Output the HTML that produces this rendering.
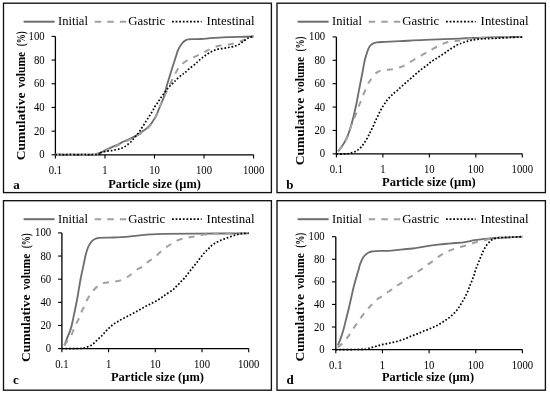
<!DOCTYPE html>
<html><head><meta charset="utf-8"><style>
html,body{margin:0;padding:0;background:#fff;width:550px;height:395px;overflow:hidden}
svg{display:block;font-family:'Liberation Serif', 'DejaVu Serif', serif}
</style></head><body>
<svg width="550" height="395" viewBox="0 0 550 395">
<rect width="550" height="395" fill="#fff"/>
<rect x="3.5" y="3.2" width="267.9" height="189.4" fill="none" stroke="#111" stroke-width="1.35"/>
<line x1="23.6" y1="21.7" x2="54.6" y2="21.7" stroke="#6e6e6e" stroke-width="2"/>
<line x1="94.7" y1="21.7" x2="126.2" y2="21.7" stroke="#a0a0a0" stroke-width="2" stroke-dasharray="6.5 6.1"/>
<line x1="172.0" y1="21.7" x2="201.6" y2="21.7" stroke="#000" stroke-width="1.8" stroke-dasharray="1.8 1.8"/>
<text x="58.0" y="25.3" font-size="12" textLength="29.9" lengthAdjust="spacingAndGlyphs" fill="#000">Initial</text>
<text x="128.3" y="25.3" font-size="12" textLength="37.0" lengthAdjust="spacingAndGlyphs" fill="#000">Gastric</text>
<text x="206.6" y="25.3" font-size="12" textLength="48.0" lengthAdjust="spacingAndGlyphs" fill="#000">Intestinal</text>
<path d="M55.4,36.4 V154.8 H253.6" fill="none" stroke="#000" stroke-width="1.3"/>
<line x1="51.6" y1="154.80" x2="55.4" y2="154.80" stroke="#000" stroke-width="1.1"/>
<text x="39.25" y="158.30" font-size="11.9" textLength="5.35" lengthAdjust="spacingAndGlyphs" fill="#000">0</text>
<line x1="51.6" y1="131.12" x2="55.4" y2="131.12" stroke="#000" stroke-width="1.1"/>
<text x="33.90" y="134.62" font-size="11.9" textLength="10.70" lengthAdjust="spacingAndGlyphs" fill="#000">20</text>
<line x1="51.6" y1="107.44" x2="55.4" y2="107.44" stroke="#000" stroke-width="1.1"/>
<text x="33.90" y="110.94" font-size="11.9" textLength="10.70" lengthAdjust="spacingAndGlyphs" fill="#000">40</text>
<line x1="51.6" y1="83.76" x2="55.4" y2="83.76" stroke="#000" stroke-width="1.1"/>
<text x="33.90" y="87.26" font-size="11.9" textLength="10.70" lengthAdjust="spacingAndGlyphs" fill="#000">60</text>
<line x1="51.6" y1="60.08" x2="55.4" y2="60.08" stroke="#000" stroke-width="1.1"/>
<text x="33.90" y="63.58" font-size="11.9" textLength="10.70" lengthAdjust="spacingAndGlyphs" fill="#000">80</text>
<line x1="51.6" y1="36.40" x2="55.4" y2="36.40" stroke="#000" stroke-width="1.1"/>
<text x="28.55" y="39.90" font-size="11.9" textLength="16.05" lengthAdjust="spacingAndGlyphs" fill="#000">100</text>
<line x1="55.40" y1="154.8" x2="55.40" y2="158.5" stroke="#000" stroke-width="1.1"/>
<text x="48.71" y="174.0" font-size="11.9" textLength="13.38" lengthAdjust="spacingAndGlyphs" fill="#000">0.1</text>
<line x1="104.95" y1="154.8" x2="104.95" y2="158.5" stroke="#000" stroke-width="1.1"/>
<text x="102.27" y="174.0" font-size="11.9" textLength="5.35" lengthAdjust="spacingAndGlyphs" fill="#000">1</text>
<line x1="154.50" y1="154.8" x2="154.50" y2="158.5" stroke="#000" stroke-width="1.1"/>
<text x="149.15" y="174.0" font-size="11.9" textLength="10.70" lengthAdjust="spacingAndGlyphs" fill="#000">10</text>
<line x1="204.05" y1="154.8" x2="204.05" y2="158.5" stroke="#000" stroke-width="1.1"/>
<text x="196.02" y="174.0" font-size="11.9" textLength="16.05" lengthAdjust="spacingAndGlyphs" fill="#000">100</text>
<line x1="253.60" y1="154.8" x2="253.60" y2="158.5" stroke="#000" stroke-width="1.1"/>
<text x="242.90" y="174.0" font-size="11.9" textLength="21.40" lengthAdjust="spacingAndGlyphs" fill="#000">1000</text>
<text x="108.2" y="187.5" font-size="13.4" font-weight="bold" textLength="92.7" lengthAdjust="spacingAndGlyphs" fill="#000">Particle size (µm)</text>
<text transform="translate(25.4,160.20) rotate(-90)" font-size="13.4" font-weight="bold" textLength="67.6" lengthAdjust="spacingAndGlyphs" fill="#000">Cumulative</text>
<text transform="translate(25.4,87.80) rotate(-90)" font-size="13.4" font-weight="bold" textLength="36.0" lengthAdjust="spacingAndGlyphs" fill="#000">volume</text>
<text transform="translate(25.4,46.30) rotate(-90)" font-size="13.4" font-weight="bold" textLength="15.0" lengthAdjust="spacingAndGlyphs" fill="#000">(%)</text>
<text x="13.2" y="189.2" font-size="13" font-weight="bold" fill="#000">a</text>
<path d="M55.40,154.60 C61.67,154.60 86.15,154.70 93.00,154.60 C99.85,154.50 95.25,154.33 96.50,154.00 C97.75,153.67 99.23,153.13 100.50,152.60 C101.77,152.07 102.43,151.60 104.10,150.80 C105.77,150.00 108.12,148.88 110.50,147.80 C112.88,146.72 116.48,145.20 118.40,144.30 C120.32,143.40 120.22,143.25 122.00,142.40 C123.78,141.55 126.73,140.33 129.10,139.20 C131.47,138.07 134.38,136.60 136.20,135.60 C138.02,134.60 138.87,133.97 140.00,133.20 C141.13,132.43 141.80,131.88 143.00,131.00 C144.20,130.12 146.03,128.90 147.20,127.90 C148.37,126.90 149.17,125.95 150.00,125.00 C150.83,124.05 151.13,123.85 152.20,122.20 C153.27,120.55 155.22,117.47 156.40,115.10 C157.58,112.73 158.40,110.18 159.30,108.00 C160.20,105.82 160.98,103.97 161.80,102.00 C162.62,100.03 163.53,98.28 164.20,96.20 C164.87,94.12 165.28,91.53 165.80,89.50 C166.32,87.47 166.83,85.62 167.30,84.00 C167.77,82.38 167.82,82.35 168.60,79.80 C169.38,77.25 170.75,72.67 172.00,68.70 C173.25,64.73 175.08,59.13 176.10,56.00 C177.12,52.87 177.12,51.98 178.10,49.90 C179.08,47.82 180.77,45.08 182.00,43.50 C183.23,41.92 184.40,41.08 185.50,40.40 C186.60,39.72 187.35,39.62 188.60,39.40 C189.85,39.18 190.93,39.17 193.00,39.10 C195.07,39.03 198.17,39.15 201.00,39.00 C203.83,38.85 207.00,38.43 210.00,38.20 C213.00,37.97 216.00,37.77 219.00,37.60 C222.00,37.43 224.50,37.32 228.00,37.20 C231.50,37.08 235.73,37.03 240.00,36.90 C244.27,36.77 251.33,36.48 253.60,36.40" fill="none" stroke="#6e6e6e" stroke-width="1.85"/>
<path d="M55.40,154.60 C61.67,154.60 86.15,154.67 93.00,154.60 C99.85,154.53 95.25,154.47 96.50,154.20 C97.75,153.93 99.23,153.47 100.50,153.00 C101.77,152.53 102.43,152.15 104.10,151.40 C105.77,150.65 108.12,149.57 110.50,148.50 C112.88,147.43 116.48,145.90 118.40,145.00 C120.32,144.10 120.22,143.95 122.00,143.10 C123.78,142.25 126.73,141.03 129.10,139.90 C131.47,138.77 134.38,137.30 136.20,136.30 C138.02,135.30 138.87,134.67 140.00,133.90 C141.13,133.13 141.80,132.58 143.00,131.70 C144.20,130.82 146.03,129.62 147.20,128.60 C148.37,127.58 149.17,126.57 150.00,125.60 C150.83,124.63 151.13,124.47 152.20,122.80 C153.27,121.13 155.22,118.00 156.40,115.60 C157.58,113.20 158.40,110.60 159.30,108.40 C160.20,106.20 160.98,104.37 161.80,102.40 C162.62,100.43 163.25,98.75 164.20,96.60 C165.15,94.45 166.27,92.10 167.50,89.50 C168.73,86.90 170.48,83.30 171.60,81.00 C172.72,78.70 173.23,77.58 174.20,75.70 C175.17,73.82 176.33,71.40 177.40,69.70 C178.47,68.00 179.13,66.95 180.60,65.50 C182.07,64.05 184.32,62.23 186.20,61.00 C188.08,59.77 190.05,59.00 191.90,58.10 C193.75,57.20 195.38,56.50 197.30,55.60 C199.22,54.70 201.53,53.65 203.40,52.70 C205.27,51.75 206.70,50.80 208.50,49.90 C210.30,49.00 212.22,48.02 214.20,47.30 C216.18,46.58 218.35,45.98 220.40,45.60 C222.45,45.22 224.48,45.32 226.50,45.00 C228.52,44.68 230.48,44.18 232.50,43.70 C234.52,43.22 236.68,42.72 238.60,42.10 C240.52,41.48 242.27,40.72 244.00,40.00 C245.73,39.28 247.40,38.40 249.00,37.80 C250.60,37.20 252.83,36.63 253.60,36.40" fill="none" stroke="#a0a0a0" stroke-width="2" stroke-dasharray="6.1 6.3"/>
<path d="M55.40,154.60 C62.35,154.58 89.57,154.80 97.10,154.50 C104.63,154.20 99.43,153.27 100.60,152.80 C101.77,152.33 102.93,151.98 104.10,151.70 C105.27,151.42 106.43,151.27 107.60,151.10 C108.77,150.93 109.93,150.88 111.10,150.70 C112.27,150.52 113.43,150.25 114.60,150.00 C115.77,149.75 116.95,149.50 118.10,149.20 C119.25,148.90 120.43,148.58 121.50,148.20 C122.57,147.82 123.53,147.47 124.50,146.90 C125.47,146.33 126.35,145.53 127.30,144.80 C128.25,144.07 129.32,143.32 130.20,142.50 C131.08,141.68 131.83,140.78 132.60,139.90 C133.37,139.02 134.03,138.12 134.80,137.20 C135.57,136.28 136.43,135.33 137.20,134.40 C137.97,133.47 138.75,132.52 139.40,131.60 C140.05,130.68 140.45,129.88 141.10,128.90 C141.75,127.92 142.63,126.72 143.30,125.70 C143.97,124.68 144.47,123.82 145.10,122.80 C145.73,121.78 146.45,120.63 147.10,119.60 C147.75,118.57 148.38,117.58 149.00,116.60 C149.62,115.62 150.15,114.70 150.80,113.70 C151.45,112.70 152.30,111.70 152.90,110.60 C153.50,109.50 153.78,108.13 154.40,107.10 C155.02,106.07 155.93,105.33 156.60,104.40 C157.27,103.47 157.80,102.47 158.40,101.50 C159.00,100.53 159.50,99.60 160.20,98.60 C160.90,97.60 161.88,96.47 162.60,95.50 C163.32,94.53 163.83,93.75 164.50,92.80 C165.17,91.85 165.85,90.77 166.60,89.80 C167.35,88.83 168.20,87.87 169.00,87.00 C169.80,86.13 170.52,85.45 171.40,84.60 C172.28,83.75 173.47,82.73 174.30,81.90 C175.13,81.07 175.15,80.78 176.40,79.60 C177.65,78.42 180.42,75.92 181.80,74.80 C183.18,73.68 183.33,74.00 184.70,72.90 C186.07,71.80 188.17,69.75 190.00,68.20 C191.83,66.65 194.32,64.80 195.70,63.60 C197.08,62.40 197.40,61.80 198.30,61.00 C199.20,60.20 200.20,59.52 201.10,58.80 C202.00,58.08 202.77,57.42 203.70,56.70 C204.63,55.98 205.70,55.17 206.70,54.50 C207.70,53.83 208.67,53.28 209.70,52.70 C210.73,52.12 211.83,51.50 212.90,51.00 C213.97,50.50 215.00,50.07 216.10,49.70 C217.20,49.33 218.35,49.00 219.50,48.80 C220.65,48.60 221.83,48.67 223.00,48.50 C224.17,48.33 225.33,48.02 226.50,47.80 C227.67,47.58 228.83,47.42 230.00,47.20 C231.17,46.98 232.33,46.82 233.50,46.50 C234.67,46.18 235.90,45.77 237.00,45.30 C238.10,44.83 239.10,44.33 240.10,43.70 C241.10,43.07 241.98,42.20 243.00,41.50 C244.02,40.80 245.20,40.15 246.20,39.50 C247.20,38.85 247.77,38.12 249.00,37.60 C250.23,37.08 252.83,36.60 253.60,36.40" fill="none" stroke="#000" stroke-width="1.7" stroke-dasharray="1.7 1.9"/>
<rect x="277" y="3.2" width="268.4" height="189.4" fill="none" stroke="#111" stroke-width="1.35"/>
<line x1="297.6" y1="21.7" x2="328.6" y2="21.7" stroke="#6e6e6e" stroke-width="2"/>
<line x1="368.7" y1="21.7" x2="400.2" y2="21.7" stroke="#a0a0a0" stroke-width="2" stroke-dasharray="6.5 6.1"/>
<line x1="446.0" y1="21.7" x2="475.6" y2="21.7" stroke="#000" stroke-width="1.8" stroke-dasharray="1.8 1.8"/>
<text x="332.0" y="25.3" font-size="12" textLength="29.9" lengthAdjust="spacingAndGlyphs" fill="#000">Initial</text>
<text x="402.3" y="25.3" font-size="12" textLength="37.0" lengthAdjust="spacingAndGlyphs" fill="#000">Gastric</text>
<text x="480.6" y="25.3" font-size="12" textLength="48.0" lengthAdjust="spacingAndGlyphs" fill="#000">Intestinal</text>
<path d="M336.4,36.9 V153.85 H522.3" fill="none" stroke="#000" stroke-width="1.3"/>
<line x1="332.59999999999997" y1="153.85" x2="336.4" y2="153.85" stroke="#000" stroke-width="1.1"/>
<text x="319.75" y="157.35" font-size="11.9" textLength="5.35" lengthAdjust="spacingAndGlyphs" fill="#000">0</text>
<line x1="332.59999999999997" y1="130.46" x2="336.4" y2="130.46" stroke="#000" stroke-width="1.1"/>
<text x="314.40" y="133.96" font-size="11.9" textLength="10.70" lengthAdjust="spacingAndGlyphs" fill="#000">20</text>
<line x1="332.59999999999997" y1="107.07" x2="336.4" y2="107.07" stroke="#000" stroke-width="1.1"/>
<text x="314.40" y="110.57" font-size="11.9" textLength="10.70" lengthAdjust="spacingAndGlyphs" fill="#000">40</text>
<line x1="332.59999999999997" y1="83.68" x2="336.4" y2="83.68" stroke="#000" stroke-width="1.1"/>
<text x="314.40" y="87.18" font-size="11.9" textLength="10.70" lengthAdjust="spacingAndGlyphs" fill="#000">60</text>
<line x1="332.59999999999997" y1="60.29" x2="336.4" y2="60.29" stroke="#000" stroke-width="1.1"/>
<text x="314.40" y="63.79" font-size="11.9" textLength="10.70" lengthAdjust="spacingAndGlyphs" fill="#000">80</text>
<line x1="332.59999999999997" y1="36.90" x2="336.4" y2="36.90" stroke="#000" stroke-width="1.1"/>
<text x="309.05" y="40.40" font-size="11.9" textLength="16.05" lengthAdjust="spacingAndGlyphs" fill="#000">100</text>
<line x1="336.40" y1="153.85" x2="336.40" y2="157.54999999999998" stroke="#000" stroke-width="1.1"/>
<text x="329.71" y="172.9" font-size="11.9" textLength="13.38" lengthAdjust="spacingAndGlyphs" fill="#000">0.1</text>
<line x1="382.88" y1="153.85" x2="382.88" y2="157.54999999999998" stroke="#000" stroke-width="1.1"/>
<text x="380.20" y="172.9" font-size="11.9" textLength="5.35" lengthAdjust="spacingAndGlyphs" fill="#000">1</text>
<line x1="429.35" y1="153.85" x2="429.35" y2="157.54999999999998" stroke="#000" stroke-width="1.1"/>
<text x="424.00" y="172.9" font-size="11.9" textLength="10.70" lengthAdjust="spacingAndGlyphs" fill="#000">10</text>
<line x1="475.82" y1="153.85" x2="475.82" y2="157.54999999999998" stroke="#000" stroke-width="1.1"/>
<text x="467.80" y="172.9" font-size="11.9" textLength="16.05" lengthAdjust="spacingAndGlyphs" fill="#000">100</text>
<line x1="522.30" y1="153.85" x2="522.30" y2="157.54999999999998" stroke="#000" stroke-width="1.1"/>
<text x="511.60" y="172.9" font-size="11.9" textLength="21.40" lengthAdjust="spacingAndGlyphs" fill="#000">1000</text>
<text x="382.1" y="185.5" font-size="13.4" font-weight="bold" textLength="93.7" lengthAdjust="spacingAndGlyphs" fill="#000">Particle size (µm)</text>
<text transform="translate(304.2,165.30) rotate(-90)" font-size="13.4" font-weight="bold" textLength="67.6" lengthAdjust="spacingAndGlyphs" fill="#000">Cumulative</text>
<text transform="translate(304.2,92.90) rotate(-90)" font-size="13.4" font-weight="bold" textLength="36.0" lengthAdjust="spacingAndGlyphs" fill="#000">volume</text>
<text transform="translate(304.2,51.40) rotate(-90)" font-size="13.4" font-weight="bold" textLength="15.0" lengthAdjust="spacingAndGlyphs" fill="#000">(%)</text>
<text x="286.3" y="188.6" font-size="13" font-weight="bold" fill="#000">b</text>
<path d="M338.10,151.40 C338.52,150.87 339.77,149.35 340.60,148.20 C341.43,147.05 342.33,145.70 343.10,144.50 C343.87,143.30 344.55,142.17 345.20,141.00 C345.85,139.83 346.50,138.60 347.00,137.50 C347.50,136.40 347.75,135.65 348.20,134.40 C348.65,133.15 349.30,131.15 349.70,130.00 C350.10,128.85 349.93,129.88 350.60,127.50 C351.27,125.12 352.70,119.78 353.70,115.70 C354.70,111.62 355.80,106.83 356.60,103.00 C357.40,99.17 357.77,96.53 358.50,92.70 C359.23,88.87 360.28,83.67 361.00,80.00 C361.72,76.33 362.20,73.87 362.80,70.70 C363.40,67.53 364.03,63.60 364.60,61.00 C365.17,58.40 365.55,57.15 366.20,55.10 C366.85,53.05 367.80,50.30 368.50,48.70 C369.20,47.10 369.67,46.35 370.40,45.50 C371.13,44.65 371.85,44.12 372.90,43.60 C373.95,43.08 374.68,42.68 376.70,42.40 C378.72,42.12 381.12,42.10 385.00,41.90 C388.88,41.70 393.33,41.53 400.00,41.20 C406.67,40.87 415.00,40.33 425.00,39.90 C435.00,39.47 449.17,39.03 460.00,38.60 C470.83,38.17 479.62,37.58 490.00,37.30 C500.38,37.02 516.92,36.97 522.30,36.90" fill="none" stroke="#6e6e6e" stroke-width="1.85"/>
<path d="M338.10,151.40 C338.52,150.87 339.77,149.35 340.60,148.20 C341.43,147.05 342.33,145.70 343.10,144.50 C343.87,143.30 344.55,142.17 345.20,141.00 C345.85,139.83 346.50,138.60 347.00,137.50 C347.50,136.40 347.75,135.65 348.20,134.40 C348.65,133.15 348.98,132.15 349.70,130.00 C350.42,127.85 351.67,123.67 352.50,121.50 C353.33,119.33 353.97,118.60 354.70,117.00 C355.43,115.40 356.12,113.98 356.90,111.90 C357.68,109.82 358.67,106.42 359.40,104.50 C360.13,102.58 360.60,102.15 361.30,100.40 C362.00,98.65 362.80,95.97 363.60,94.00 C364.40,92.03 365.27,90.45 366.10,88.60 C366.93,86.75 367.85,84.33 368.60,82.90 C369.35,81.47 370.02,80.82 370.60,80.00 C371.18,79.18 371.15,79.18 372.10,78.00 C373.05,76.82 374.70,74.18 376.30,72.90 C377.90,71.62 379.73,70.83 381.70,70.30 C383.67,69.77 386.03,69.88 388.10,69.70 C390.17,69.52 392.10,69.60 394.10,69.20 C396.10,68.80 398.20,68.02 400.10,67.30 C402.00,66.58 403.40,66.03 405.50,64.90 C407.60,63.77 410.28,61.93 412.70,60.50 C415.12,59.07 417.53,57.72 420.00,56.30 C422.47,54.88 425.40,53.20 427.50,52.00 C429.60,50.80 430.78,50.10 432.60,49.10 C434.42,48.10 436.48,46.95 438.40,46.00 C440.32,45.05 442.20,44.12 444.10,43.40 C446.00,42.68 447.78,42.12 449.80,41.70 C451.82,41.28 454.17,41.20 456.20,40.90 C458.23,40.60 458.87,40.33 462.00,39.90 C465.13,39.47 469.50,38.72 475.00,38.30 C480.50,37.88 487.12,37.63 495.00,37.40 C502.88,37.17 517.75,36.98 522.30,36.90" fill="none" stroke="#a0a0a0" stroke-width="2" stroke-dasharray="6.1 6.3"/>
<path d="M336.40,154.00 C338.00,153.98 343.27,154.15 346.00,153.90 C348.73,153.65 351.13,152.95 352.80,152.50 C354.47,152.05 355.00,151.73 356.00,151.20 C357.00,150.67 357.90,150.03 358.80,149.30 C359.70,148.57 360.60,147.70 361.40,146.80 C362.20,145.90 362.92,144.87 363.60,143.90 C364.28,142.93 364.88,141.98 365.50,141.00 C366.12,140.02 366.73,139.02 367.30,138.00 C367.87,136.98 368.37,135.95 368.90,134.90 C369.43,133.85 369.97,132.80 370.50,131.70 C371.03,130.60 371.57,129.42 372.10,128.30 C372.63,127.18 373.22,126.07 373.70,125.00 C374.18,123.93 374.53,122.95 375.00,121.90 C375.47,120.85 375.98,119.77 376.50,118.70 C377.02,117.63 377.57,116.60 378.10,115.50 C378.63,114.40 379.17,113.17 379.70,112.10 C380.23,111.03 380.73,110.12 381.30,109.10 C381.87,108.08 382.47,107.00 383.10,106.00 C383.73,105.00 384.45,104.05 385.10,103.10 C385.75,102.15 386.27,101.25 387.00,100.30 C387.73,99.35 388.65,98.30 389.50,97.40 C390.35,96.50 391.25,95.70 392.10,94.90 C392.95,94.10 393.70,93.35 394.60,92.60 C395.50,91.85 396.65,91.13 397.50,90.40 C398.35,89.67 398.85,89.00 399.70,88.20 C400.55,87.40 401.63,86.47 402.60,85.60 C403.57,84.73 404.60,83.80 405.50,83.00 C406.40,82.20 407.10,81.57 408.00,80.80 C408.90,80.03 409.98,79.20 410.90,78.40 C411.82,77.60 412.65,76.77 413.50,76.00 C414.35,75.23 415.10,74.57 416.00,73.80 C416.90,73.03 417.95,72.18 418.90,71.40 C419.85,70.62 420.75,69.83 421.70,69.10 C422.65,68.37 423.63,67.70 424.60,67.00 C425.57,66.30 426.58,65.65 427.50,64.90 C428.42,64.15 429.18,63.22 430.10,62.50 C431.02,61.78 432.00,61.23 433.00,60.60 C434.00,59.97 435.10,59.33 436.10,58.70 C437.10,58.07 438.03,57.43 439.00,56.80 C439.97,56.17 440.88,55.57 441.90,54.90 C442.92,54.23 444.10,53.50 445.10,52.80 C446.10,52.10 446.95,51.37 447.90,50.70 C448.85,50.03 449.78,49.43 450.80,48.80 C451.82,48.17 452.98,47.52 454.00,46.90 C455.02,46.28 455.88,45.63 456.90,45.10 C457.92,44.57 458.98,44.15 460.10,43.70 C461.22,43.25 462.48,42.77 463.60,42.40 C464.72,42.03 465.68,41.82 466.80,41.50 C467.92,41.18 469.13,40.77 470.30,40.50 C471.47,40.23 472.63,40.08 473.80,39.90 C474.97,39.72 476.13,39.55 477.30,39.40 C478.47,39.25 479.63,39.10 480.80,39.00 C481.97,38.90 483.10,38.87 484.30,38.80 C485.50,38.73 485.68,38.70 488.00,38.60 C490.32,38.50 494.38,38.38 498.20,38.20 C502.02,38.02 506.88,37.70 510.90,37.50 C514.92,37.30 520.40,37.08 522.30,37.00" fill="none" stroke="#000" stroke-width="1.7" stroke-dasharray="1.7 1.9"/>
<rect x="3.5" y="200.7" width="267.9" height="189.5" fill="none" stroke="#111" stroke-width="1.35"/>
<line x1="23.6" y1="219.2" x2="54.6" y2="219.2" stroke="#6e6e6e" stroke-width="2"/>
<line x1="94.7" y1="219.2" x2="126.2" y2="219.2" stroke="#a0a0a0" stroke-width="2" stroke-dasharray="6.5 6.1"/>
<line x1="172.0" y1="219.2" x2="201.6" y2="219.2" stroke="#000" stroke-width="1.8" stroke-dasharray="1.8 1.8"/>
<text x="58.0" y="222.8" font-size="12" textLength="29.9" lengthAdjust="spacingAndGlyphs" fill="#000">Initial</text>
<text x="128.3" y="222.8" font-size="12" textLength="37.0" lengthAdjust="spacingAndGlyphs" fill="#000">Gastric</text>
<text x="206.6" y="222.8" font-size="12" textLength="48.0" lengthAdjust="spacingAndGlyphs" fill="#000">Intestinal</text>
<path d="M61.9,232.9 V348.6 H248.7" fill="none" stroke="#000" stroke-width="1.3"/>
<line x1="58.1" y1="348.60" x2="61.9" y2="348.60" stroke="#000" stroke-width="1.1"/>
<text x="45.75" y="352.10" font-size="11.9" textLength="5.35" lengthAdjust="spacingAndGlyphs" fill="#000">0</text>
<line x1="58.1" y1="325.46" x2="61.9" y2="325.46" stroke="#000" stroke-width="1.1"/>
<text x="40.40" y="328.96" font-size="11.9" textLength="10.70" lengthAdjust="spacingAndGlyphs" fill="#000">20</text>
<line x1="58.1" y1="302.32" x2="61.9" y2="302.32" stroke="#000" stroke-width="1.1"/>
<text x="40.40" y="305.82" font-size="11.9" textLength="10.70" lengthAdjust="spacingAndGlyphs" fill="#000">40</text>
<line x1="58.1" y1="279.18" x2="61.9" y2="279.18" stroke="#000" stroke-width="1.1"/>
<text x="40.40" y="282.68" font-size="11.9" textLength="10.70" lengthAdjust="spacingAndGlyphs" fill="#000">60</text>
<line x1="58.1" y1="256.04" x2="61.9" y2="256.04" stroke="#000" stroke-width="1.1"/>
<text x="40.40" y="259.54" font-size="11.9" textLength="10.70" lengthAdjust="spacingAndGlyphs" fill="#000">80</text>
<line x1="58.1" y1="232.90" x2="61.9" y2="232.90" stroke="#000" stroke-width="1.1"/>
<text x="35.05" y="236.40" font-size="11.9" textLength="16.05" lengthAdjust="spacingAndGlyphs" fill="#000">100</text>
<line x1="61.90" y1="348.6" x2="61.90" y2="352.3" stroke="#000" stroke-width="1.1"/>
<text x="55.21" y="367.7" font-size="11.9" textLength="13.38" lengthAdjust="spacingAndGlyphs" fill="#000">0.1</text>
<line x1="108.60" y1="348.6" x2="108.60" y2="352.3" stroke="#000" stroke-width="1.1"/>
<text x="105.92" y="367.7" font-size="11.9" textLength="5.35" lengthAdjust="spacingAndGlyphs" fill="#000">1</text>
<line x1="155.30" y1="348.6" x2="155.30" y2="352.3" stroke="#000" stroke-width="1.1"/>
<text x="149.95" y="367.7" font-size="11.9" textLength="10.70" lengthAdjust="spacingAndGlyphs" fill="#000">10</text>
<line x1="202.00" y1="348.6" x2="202.00" y2="352.3" stroke="#000" stroke-width="1.1"/>
<text x="193.97" y="367.7" font-size="11.9" textLength="16.05" lengthAdjust="spacingAndGlyphs" fill="#000">100</text>
<line x1="248.70" y1="348.6" x2="248.70" y2="352.3" stroke="#000" stroke-width="1.1"/>
<text x="238.00" y="367.7" font-size="11.9" textLength="21.40" lengthAdjust="spacingAndGlyphs" fill="#000">1000</text>
<text x="111" y="381.3" font-size="13.4" font-weight="bold" textLength="93.0" lengthAdjust="spacingAndGlyphs" fill="#000">Particle size (µm)</text>
<text transform="translate(30.4,362.10) rotate(-90)" font-size="13.4" font-weight="bold" textLength="67.6" lengthAdjust="spacingAndGlyphs" fill="#000">Cumulative</text>
<text transform="translate(30.4,289.70) rotate(-90)" font-size="13.4" font-weight="bold" textLength="36.0" lengthAdjust="spacingAndGlyphs" fill="#000">volume</text>
<text transform="translate(30.4,248.20) rotate(-90)" font-size="13.4" font-weight="bold" textLength="15.0" lengthAdjust="spacingAndGlyphs" fill="#000">(%)</text>
<text x="13.1" y="384.2" font-size="13" font-weight="bold" fill="#000">c</text>
<path d="M64.30,345.30 C64.48,344.92 64.90,344.27 65.40,343.00 C65.90,341.73 66.55,339.63 67.30,337.70 C68.05,335.77 69.15,333.52 69.90,331.40 C70.65,329.28 71.05,328.12 71.80,325.00 C72.55,321.88 73.53,316.87 74.40,312.70 C75.27,308.53 76.22,304.17 77.00,300.00 C77.78,295.83 78.47,291.37 79.10,287.70 C79.73,284.03 79.95,282.28 80.80,278.00 C81.65,273.72 83.40,265.78 84.20,262.00 C85.00,258.22 85.02,257.60 85.60,255.30 C86.18,253.00 87.05,249.98 87.70,248.20 C88.35,246.42 88.78,245.78 89.50,244.60 C90.22,243.42 91.07,242.03 92.00,241.10 C92.93,240.17 93.87,239.53 95.10,239.00 C96.33,238.47 96.92,238.13 99.40,237.90 C101.88,237.67 106.38,237.72 110.00,237.60 C113.62,237.48 116.48,237.53 121.10,237.20 C125.72,236.87 132.80,236.07 137.70,235.60 C142.60,235.13 146.25,234.68 150.50,234.40 C154.75,234.12 155.78,234.02 163.20,233.90 C170.62,233.78 180.75,233.80 195.00,233.70 C209.25,233.60 239.75,233.37 248.70,233.30" fill="none" stroke="#6e6e6e" stroke-width="1.85"/>
<path d="M64.50,345.40 C65.02,344.55 66.43,342.07 67.60,340.30 C68.77,338.53 70.48,336.60 71.50,334.80 C72.52,333.00 72.90,331.37 73.70,329.50 C74.50,327.63 75.43,325.43 76.30,323.60 C77.17,321.77 78.05,320.42 78.90,318.50 C79.75,316.58 80.55,314.07 81.40,312.10 C82.25,310.13 83.10,308.63 84.00,306.70 C84.90,304.77 85.87,302.38 86.80,300.50 C87.73,298.62 88.48,297.10 89.60,295.40 C90.72,293.70 92.18,291.80 93.50,290.30 C94.82,288.80 95.87,287.60 97.50,286.40 C99.13,285.20 101.33,283.80 103.30,283.10 C105.27,282.40 107.28,282.47 109.30,282.20 C111.32,281.93 113.38,281.87 115.40,281.50 C117.42,281.13 119.45,280.73 121.40,280.00 C123.35,279.27 125.67,277.90 127.10,277.10 C128.53,276.30 128.32,276.47 130.00,275.20 C131.68,273.93 135.10,270.93 137.20,269.50 C139.30,268.07 140.95,267.77 142.60,266.60 C144.25,265.43 145.45,263.82 147.10,262.50 C148.75,261.18 150.80,259.97 152.50,258.70 C154.20,257.43 155.80,256.18 157.30,254.90 C158.80,253.62 159.88,252.35 161.50,251.00 C163.12,249.65 165.28,248.03 167.00,246.80 C168.72,245.57 170.05,244.67 171.80,243.60 C173.55,242.53 175.53,241.25 177.50,240.40 C179.47,239.55 181.58,239.03 183.60,238.50 C185.62,237.97 187.70,237.57 189.60,237.20 C191.50,236.83 192.58,236.73 195.00,236.30 C197.42,235.87 200.77,235.02 204.10,234.60 C207.43,234.18 207.57,234.02 215.00,233.80 C222.43,233.58 243.08,233.38 248.70,233.30" fill="none" stroke="#a0a0a0" stroke-width="2" stroke-dasharray="6.1 6.3"/>
<path d="M61.90,348.60 C64.92,348.58 76.48,348.57 80.00,348.50 C83.52,348.43 82.08,348.35 83.00,348.20 C83.92,348.05 84.50,347.92 85.50,347.60 C86.50,347.28 87.90,346.78 89.00,346.30 C90.10,345.82 91.15,345.33 92.10,344.70 C93.05,344.07 93.78,343.37 94.70,342.50 C95.62,341.63 96.68,340.37 97.60,339.50 C98.52,338.63 99.35,338.07 100.20,337.30 C101.05,336.53 101.90,335.75 102.70,334.90 C103.50,334.05 104.25,333.05 105.00,332.20 C105.75,331.35 106.35,330.65 107.20,329.80 C108.05,328.95 109.20,327.92 110.10,327.10 C111.00,326.28 111.70,325.62 112.60,324.90 C113.50,324.18 114.50,323.45 115.50,322.80 C116.50,322.15 117.55,321.58 118.60,321.00 C119.65,320.42 120.75,319.87 121.80,319.30 C122.85,318.73 123.87,318.15 124.90,317.60 C125.93,317.05 126.95,316.53 128.00,316.00 C129.05,315.47 130.13,314.95 131.20,314.40 C132.27,313.85 133.33,313.28 134.40,312.70 C135.47,312.12 136.53,311.50 137.60,310.90 C138.67,310.30 139.73,309.68 140.80,309.10 C141.87,308.52 143.00,307.95 144.00,307.40 C145.00,306.85 145.80,306.33 146.80,305.80 C147.80,305.27 148.93,304.75 150.00,304.20 C151.07,303.65 152.13,303.05 153.20,302.50 C154.27,301.95 155.27,301.55 156.40,300.90 C157.53,300.25 158.87,299.35 160.00,298.60 C161.13,297.85 162.23,297.08 163.20,296.40 C164.17,295.72 164.47,295.40 165.80,294.50 C167.13,293.60 169.83,291.95 171.20,291.00 C172.57,290.05 173.10,289.60 174.00,288.80 C174.90,288.00 175.75,287.05 176.60,286.20 C177.45,285.35 178.30,284.55 179.10,283.70 C179.90,282.85 180.58,281.95 181.40,281.10 C182.22,280.25 183.20,279.47 184.00,278.60 C184.80,277.73 185.47,276.82 186.20,275.90 C186.93,274.98 187.65,274.10 188.40,273.10 C189.15,272.10 189.93,270.90 190.70,269.90 C191.47,268.90 192.27,267.98 193.00,267.10 C193.73,266.22 194.40,265.47 195.10,264.60 C195.80,263.73 196.47,262.85 197.20,261.90 C197.93,260.95 198.75,259.87 199.50,258.90 C200.25,257.93 200.95,257.03 201.70,256.10 C202.45,255.17 203.23,254.17 204.00,253.30 C204.77,252.43 205.48,251.73 206.30,250.90 C207.12,250.07 208.07,249.13 208.90,248.30 C209.73,247.47 210.43,246.65 211.30,245.90 C212.17,245.15 213.10,244.47 214.10,243.80 C215.10,243.13 216.23,242.47 217.30,241.90 C218.37,241.33 219.40,240.87 220.50,240.40 C221.60,239.93 222.78,239.52 223.90,239.10 C225.02,238.68 226.07,238.32 227.20,237.90 C228.33,237.48 229.55,237.00 230.70,236.60 C231.85,236.20 232.98,235.85 234.10,235.50 C235.22,235.15 236.27,234.80 237.40,234.50 C238.53,234.20 239.73,233.88 240.90,233.70 C242.07,233.52 243.10,233.48 244.40,233.40 C245.70,233.32 247.98,233.23 248.70,233.20" fill="none" stroke="#000" stroke-width="1.7" stroke-dasharray="1.7 1.9"/>
<rect x="277" y="200.7" width="268.4" height="189.5" fill="none" stroke="#111" stroke-width="1.35"/>
<line x1="297.6" y1="219.2" x2="328.6" y2="219.2" stroke="#6e6e6e" stroke-width="2"/>
<line x1="368.7" y1="219.2" x2="400.2" y2="219.2" stroke="#a0a0a0" stroke-width="2" stroke-dasharray="6.5 6.1"/>
<line x1="446.0" y1="219.2" x2="475.6" y2="219.2" stroke="#000" stroke-width="1.8" stroke-dasharray="1.8 1.8"/>
<text x="332.0" y="222.8" font-size="12" textLength="29.9" lengthAdjust="spacingAndGlyphs" fill="#000">Initial</text>
<text x="402.3" y="222.8" font-size="12" textLength="37.0" lengthAdjust="spacingAndGlyphs" fill="#000">Gastric</text>
<text x="480.6" y="222.8" font-size="12" textLength="48.0" lengthAdjust="spacingAndGlyphs" fill="#000">Intestinal</text>
<path d="M335.8,236.7 V349.6 H522.4" fill="none" stroke="#000" stroke-width="1.3"/>
<line x1="332.0" y1="349.60" x2="335.8" y2="349.60" stroke="#000" stroke-width="1.1"/>
<text x="319.25" y="353.10" font-size="11.9" textLength="5.35" lengthAdjust="spacingAndGlyphs" fill="#000">0</text>
<line x1="332.0" y1="327.02" x2="335.8" y2="327.02" stroke="#000" stroke-width="1.1"/>
<text x="313.90" y="330.52" font-size="11.9" textLength="10.70" lengthAdjust="spacingAndGlyphs" fill="#000">20</text>
<line x1="332.0" y1="304.44" x2="335.8" y2="304.44" stroke="#000" stroke-width="1.1"/>
<text x="313.90" y="307.94" font-size="11.9" textLength="10.70" lengthAdjust="spacingAndGlyphs" fill="#000">40</text>
<line x1="332.0" y1="281.86" x2="335.8" y2="281.86" stroke="#000" stroke-width="1.1"/>
<text x="313.90" y="285.36" font-size="11.9" textLength="10.70" lengthAdjust="spacingAndGlyphs" fill="#000">60</text>
<line x1="332.0" y1="259.28" x2="335.8" y2="259.28" stroke="#000" stroke-width="1.1"/>
<text x="313.90" y="262.78" font-size="11.9" textLength="10.70" lengthAdjust="spacingAndGlyphs" fill="#000">80</text>
<line x1="332.0" y1="236.70" x2="335.8" y2="236.70" stroke="#000" stroke-width="1.1"/>
<text x="308.55" y="240.20" font-size="11.9" textLength="16.05" lengthAdjust="spacingAndGlyphs" fill="#000">100</text>
<line x1="335.80" y1="349.6" x2="335.80" y2="353.3" stroke="#000" stroke-width="1.1"/>
<text x="329.11" y="368.7" font-size="11.9" textLength="13.38" lengthAdjust="spacingAndGlyphs" fill="#000">0.1</text>
<line x1="382.45" y1="349.6" x2="382.45" y2="353.3" stroke="#000" stroke-width="1.1"/>
<text x="379.77" y="368.7" font-size="11.9" textLength="5.35" lengthAdjust="spacingAndGlyphs" fill="#000">1</text>
<line x1="429.10" y1="349.6" x2="429.10" y2="353.3" stroke="#000" stroke-width="1.1"/>
<text x="423.75" y="368.7" font-size="11.9" textLength="10.70" lengthAdjust="spacingAndGlyphs" fill="#000">10</text>
<line x1="475.75" y1="349.6" x2="475.75" y2="353.3" stroke="#000" stroke-width="1.1"/>
<text x="467.73" y="368.7" font-size="11.9" textLength="16.05" lengthAdjust="spacingAndGlyphs" fill="#000">100</text>
<line x1="522.40" y1="349.6" x2="522.40" y2="353.3" stroke="#000" stroke-width="1.1"/>
<text x="511.70" y="368.7" font-size="11.9" textLength="21.40" lengthAdjust="spacingAndGlyphs" fill="#000">1000</text>
<text x="382" y="381.4" font-size="13.4" font-weight="bold" textLength="92.0" lengthAdjust="spacingAndGlyphs" fill="#000">Particle size (µm)</text>
<text transform="translate(304.4,361.60) rotate(-90)" font-size="13.4" font-weight="bold" textLength="67.6" lengthAdjust="spacingAndGlyphs" fill="#000">Cumulative</text>
<text transform="translate(304.4,289.20) rotate(-90)" font-size="13.4" font-weight="bold" textLength="36.0" lengthAdjust="spacingAndGlyphs" fill="#000">volume</text>
<text transform="translate(304.4,247.70) rotate(-90)" font-size="13.4" font-weight="bold" textLength="15.0" lengthAdjust="spacingAndGlyphs" fill="#000">(%)</text>
<text x="286.6" y="384.2" font-size="13" font-weight="bold" fill="#000">d</text>
<path d="M337.90,345.30 C338.05,344.95 338.25,344.60 338.80,343.20 C339.35,341.80 340.40,339.23 341.20,336.90 C342.00,334.57 342.80,332.08 343.60,329.20 C344.40,326.32 345.20,322.80 346.00,319.60 C346.80,316.40 347.62,313.27 348.40,310.00 C349.18,306.73 349.85,303.72 350.70,300.00 C351.55,296.28 352.45,291.87 353.50,287.70 C354.55,283.53 356.17,277.95 357.00,275.00 C357.83,272.05 357.98,271.82 358.50,270.00 C359.02,268.18 359.35,266.15 360.10,264.10 C360.85,262.05 362.05,259.30 363.00,257.70 C363.95,256.10 364.87,255.37 365.80,254.50 C366.73,253.63 367.60,253.00 368.60,252.50 C369.60,252.00 370.57,251.73 371.80,251.50 C373.03,251.27 374.47,251.20 376.00,251.10 C377.53,251.00 378.45,250.98 381.00,250.90 C383.55,250.82 387.68,250.87 391.30,250.60 C394.92,250.33 399.13,249.65 402.70,249.30 C406.27,248.95 408.90,249.00 412.70,248.50 C416.50,248.00 421.25,246.95 425.50,246.30 C429.75,245.65 433.97,245.08 438.20,244.60 C442.43,244.12 446.43,243.82 450.90,243.40 C455.37,242.98 461.03,242.63 465.00,242.10 C468.97,241.57 470.95,240.78 474.70,240.20 C478.45,239.62 483.78,238.97 487.50,238.60 C491.22,238.23 491.18,238.32 497.00,238.00 C502.82,237.68 518.17,236.92 522.40,236.70" fill="none" stroke="#6e6e6e" stroke-width="1.85"/>
<path d="M337.60,347.40 C337.85,347.20 338.32,346.85 339.10,346.20 C339.88,345.55 341.08,344.75 342.30,343.50 C343.52,342.25 345.08,340.35 346.40,338.70 C347.72,337.05 349.03,335.30 350.20,333.60 C351.37,331.90 352.30,330.17 353.40,328.50 C354.50,326.83 355.60,325.33 356.80,323.60 C358.00,321.87 359.38,319.80 360.60,318.10 C361.82,316.40 362.77,315.08 364.10,313.40 C365.43,311.72 367.17,309.60 368.60,308.00 C370.03,306.40 371.25,305.27 372.70,303.80 C374.15,302.33 375.68,300.50 377.30,299.20 C378.92,297.90 380.70,297.17 382.40,296.00 C384.10,294.83 385.80,293.37 387.50,292.20 C389.20,291.03 390.90,290.17 392.60,289.00 C394.30,287.83 396.00,286.35 397.70,285.20 C399.40,284.05 401.03,283.27 402.80,282.10 C404.57,280.93 406.53,279.37 408.30,278.20 C410.07,277.03 411.70,276.27 413.40,275.10 C415.10,273.93 416.80,272.43 418.50,271.20 C420.20,269.97 421.92,268.92 423.60,267.70 C425.28,266.48 426.92,265.10 428.60,263.90 C430.28,262.70 432.03,261.72 433.70,260.50 C435.37,259.28 436.93,257.80 438.60,256.60 C440.27,255.40 441.90,254.30 443.70,253.30 C445.50,252.30 447.43,251.42 449.40,250.60 C451.37,249.78 453.53,249.03 455.50,248.40 C457.47,247.77 459.22,247.37 461.20,246.80 C463.18,246.23 465.35,245.63 467.40,245.00 C469.45,244.37 471.53,243.58 473.50,243.00 C475.47,242.42 476.78,242.13 479.20,241.50 C481.62,240.87 485.03,239.82 488.00,239.20 C490.97,238.58 491.27,238.22 497.00,237.80 C502.73,237.38 518.17,236.88 522.40,236.70" fill="none" stroke="#a0a0a0" stroke-width="2" stroke-dasharray="6.1 6.3"/>
<path d="M335.80,349.60 C340.17,349.57 356.80,349.57 362.00,349.40 C367.20,349.23 365.67,348.83 367.00,348.60 C368.33,348.37 368.92,348.27 370.00,348.00 C371.08,347.73 372.33,347.33 373.50,347.00 C374.67,346.67 375.83,346.33 377.00,346.00 C378.17,345.67 379.33,345.30 380.50,345.00 C381.67,344.70 382.83,344.45 384.00,344.20 C385.17,343.95 386.33,343.75 387.50,343.50 C388.67,343.25 389.83,342.95 391.00,342.70 C392.17,342.45 393.33,342.25 394.50,342.00 C395.67,341.75 396.83,341.53 398.00,341.20 C399.17,340.87 400.42,340.37 401.50,340.00 C402.58,339.63 403.43,339.40 404.50,339.00 C405.57,338.60 406.78,338.08 407.90,337.60 C409.02,337.12 410.10,336.55 411.20,336.10 C412.30,335.65 413.38,335.32 414.50,334.90 C415.62,334.48 416.78,334.05 417.90,333.60 C419.02,333.15 420.12,332.67 421.20,332.20 C422.28,331.73 423.30,331.23 424.40,330.80 C425.50,330.37 426.68,330.03 427.80,329.60 C428.92,329.17 430.02,328.67 431.10,328.20 C432.18,327.73 433.22,327.28 434.30,326.80 C435.38,326.32 436.57,325.85 437.60,325.30 C438.63,324.75 439.50,324.13 440.50,323.50 C441.50,322.87 442.60,322.15 443.60,321.50 C444.60,320.85 445.55,320.23 446.50,319.60 C447.45,318.97 448.37,318.45 449.30,317.70 C450.23,316.95 451.20,315.95 452.10,315.10 C453.00,314.25 453.88,313.45 454.70,312.60 C455.52,311.75 456.27,310.92 457.00,310.00 C457.73,309.08 458.43,308.10 459.10,307.10 C459.77,306.10 460.37,305.03 461.00,304.00 C461.63,302.97 462.30,301.92 462.90,300.90 C463.50,299.88 464.05,298.93 464.60,297.90 C465.15,296.87 465.68,295.78 466.20,294.70 C466.72,293.62 467.23,292.52 467.70,291.40 C468.17,290.28 468.58,289.08 469.00,288.00 C469.42,286.92 469.77,285.98 470.20,284.90 C470.63,283.82 471.15,282.63 471.60,281.50 C472.05,280.37 472.48,279.18 472.90,278.10 C473.32,277.02 473.73,276.12 474.10,275.00 C474.47,273.88 474.73,272.57 475.10,271.40 C475.47,270.23 475.88,269.12 476.30,268.00 C476.72,266.88 477.17,265.80 477.60,264.70 C478.03,263.60 478.45,262.52 478.90,261.40 C479.35,260.28 479.83,259.12 480.30,258.00 C480.77,256.88 481.25,255.77 481.70,254.70 C482.15,253.63 482.52,252.63 483.00,251.60 C483.48,250.57 484.02,249.55 484.60,248.50 C485.18,247.45 485.82,246.27 486.50,245.30 C487.18,244.33 487.90,243.55 488.70,242.70 C489.50,241.85 490.33,240.88 491.30,240.20 C492.27,239.52 493.35,239.00 494.50,238.60 C495.65,238.20 495.47,238.03 498.20,237.80 C500.93,237.57 506.87,237.35 510.90,237.20 C514.93,237.05 520.48,236.95 522.40,236.90" fill="none" stroke="#000" stroke-width="1.7" stroke-dasharray="1.7 1.9"/>
</svg>
</body></html>
